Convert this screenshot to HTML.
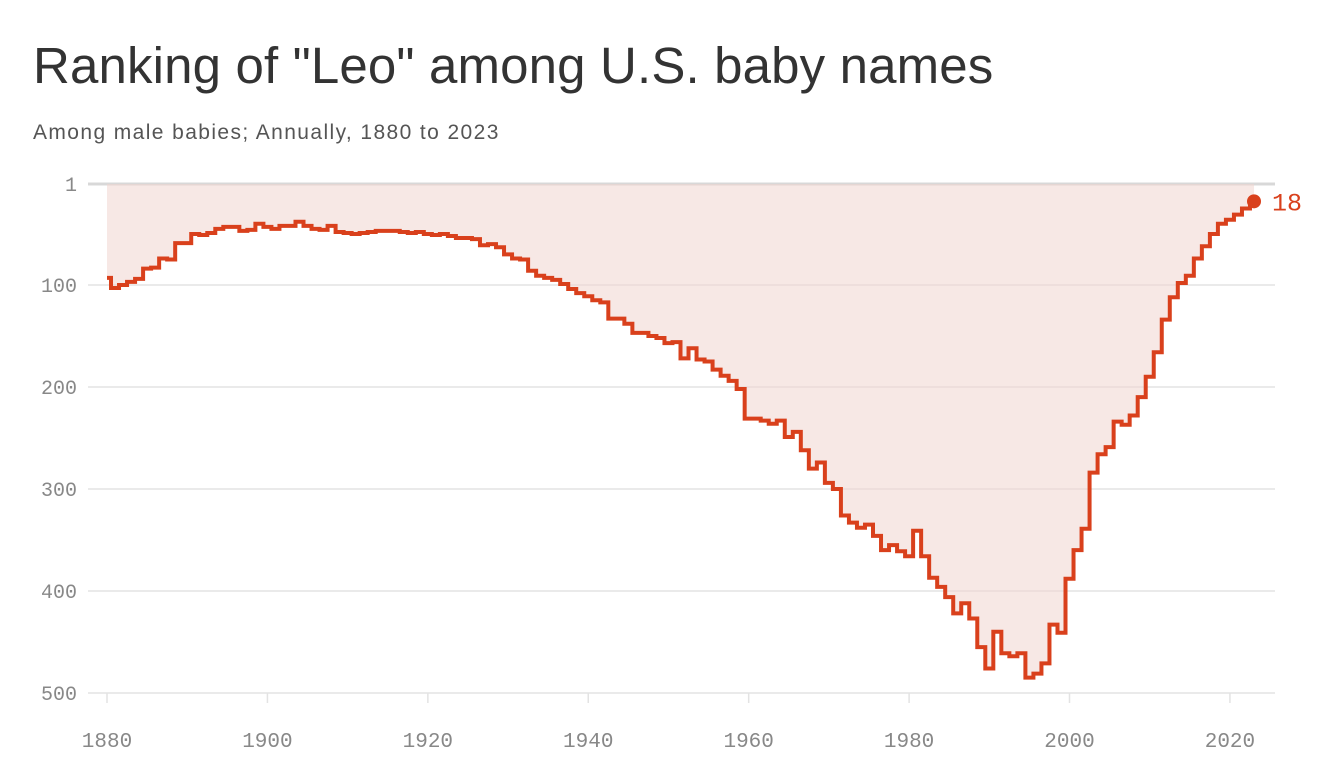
<!DOCTYPE html>
<html><head><meta charset="utf-8"><style>
body{margin:0;background:#fff;width:1344px;height:784px;overflow:hidden;font-family:"Liberation Sans",sans-serif}
h1{position:absolute;left:33px;top:36px;margin:0;font-size:51px;font-weight:400;color:#333;letter-spacing:0.15px;white-space:nowrap}
.sub{position:absolute;left:33px;top:121px;font-size:21px;color:#555;letter-spacing:1.4px;white-space:nowrap}
svg{position:absolute;left:0;top:0}
</style></head><body>
<h1>Ranking of "Leo" among U.S. baby names</h1>
<div class="sub">Among male babies; Annually, 1880 to 2023</div>
<svg id="s" width="1344" height="784"></svg>
<script>
var d=[93,103,100,97,94,84,83,74,75,59,59,50,51,49,45,43,43,47,46,40,43,45,42,42,38,42,45,46,42,48,49,50,49,48,47,47,47,48,49,48,50,51,50,52,54,54,55,61,60,63,70,74,75,86,91,93,95,99,104,108,111,115,117,133,133,138,147,147,150,152,157,156,172,162,173,175,183,189,194,202,231,231,233,236,233,249,244,262,280,274,294,300,326,333,338,335,346,360,355,361,366,341,366,387,396,406,422,412,427,455,476,440,461,464,461,485,481,471,433,441,388,360,339,284,266,259,234,237,228,210,190,166,134,112,98,91,74,62,50,40,36,31,25,18];
function X(y){return 107+(y-1880)*8.021}
function Y(r){return 184+(r-1)*1.02}
var s='';
[1,100,200,300,400,500].forEach(function(r,i){s+='<line x1="88" x2="1275" y1="'+Y(r)+'" y2="'+Y(r)+'" stroke="'+(i==0?'#d8d8d8':'#e3e3e3')+'" stroke-width="'+(i==0?3:1.5)+'"/>';
s+='<text x="77" y="'+(Y(r)+7)+'" text-anchor="end" font-family="Liberation Mono,monospace" font-size="20" fill="#888">'+r+'</text>';});
for(var y=1880;y<=2020;y+=20){s+='<line x1="'+X(y)+'" x2="'+X(y)+'" y1="693" y2="703" stroke="#e3e3e3" stroke-width="1.5"/><text x="'+X(y)+'" y="747" text-anchor="middle" font-family="Liberation Mono,monospace" font-size="21" fill="#888">'+y+'</text>';}
var p='M'+X(1880)+' '+Y(d[0]);
for(var i=0;i<d.length;i++){var yr=1880+i;var x0=i==0?X(yr):X(yr)-4.01;var x1=i==d.length-1?X(yr):X(yr)+4.01;p+=' L'+x0+' '+Y(d[i])+' L'+x1+' '+Y(d[i]);}
var area=p+' L'+X(2023)+' '+Y(1)+' L'+X(1880)+' '+Y(1)+' Z';
s+='<path d="'+area+'" fill="#f0d5cf" fill-opacity="0.55"/>';
s+='<path d="'+p+'" fill="none" stroke="#d9401c" stroke-width="4" stroke-linejoin="miter"/>';
s+='<circle cx="'+X(2023)+'" cy="'+Y(18)+'" r="7" fill="#d9401c"/>';
s+='<text x="1272" y="'+(Y(18)+9)+'" font-family="Liberation Mono,monospace" font-size="25" fill="#d9401c">18</text>';
document.getElementById('s').innerHTML=s;
</script>
</body></html>
